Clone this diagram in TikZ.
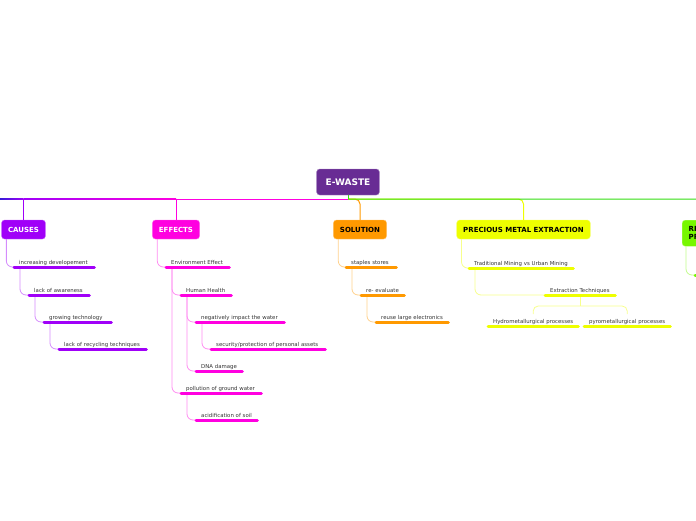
\documentclass[tikz,border=0pt]{standalone}
\usepackage{fontspec}
\setmainfont{DejaVu Sans}
\usetikzlibrary{positioning, calc}
\definecolor{hubpurple}{RGB}{104,44,148}
\definecolor{causecol}{HTML}{A000F8}
\definecolor{effectcol}{HTML}{FF00E0}
\definecolor{solcol}{HTML}{FF9900}
\definecolor{metalcol}{HTML}{EEFF00}
\definecolor{recycol}{HTML}{77F700}
\definecolor{linegreen}{HTML}{33DD11}
\definecolor{lineblue}{HTML}{2020D0}
\definecolor{subtext}{HTML}{333333}
\tikzset{
    topic/.style={fill=#1, draw=#1!60!white, line width=0.4pt, rounded corners=3pt, font=\fontsize{7}{8.5}\selectfont\bfseries, minimum height=19pt, inner xsep=6.5pt},
    sub/.style={font=\fontsize{5.4}{6.5}\selectfont, text=subtext, text width=#1pt, inner xsep=5pt, inner ysep=1pt, text height=4pt, text depth=1.5pt, anchor=south west, align=left},
    bar/.style={line width=3pt, line cap=round, draw=#1},
    main/.style={line width=1pt, draw=#1},
    link/.style={line width=0.8pt, draw=#1!45!white, rounded corners=6pt}
}
\begin{document}
\begin{tikzpicture}[x=1pt, y=-1pt]
        \useasboundingbox (0,0) rectangle (696,520);
        % central topic
        \node[topic=hubpurple, text=white, font=\fontsize{9}{11}\selectfont\bfseries, minimum height=26pt, inner xsep=9pt] (ewaste) at (348,182) {E-WASTE};
        \coordinate (hub) at (348,199);
        \coordinate (farleft) at (-5,199);

        % main topics
        \node[topic=causecol, text=white] (causes) at (23.5,229.5) {CAUSES};
        \node[topic=effectcol, text=white] (effects) at (176,229.5) {EFFECTS};
        \node[topic=solcol, text=black] (solution) at (360,229.5) {SOLUTION};
        \node[topic=metalcol, text=black] (precious) at (523.5,229.5) {PRECIOUS METAL EXTRACTION};
        \node[topic=recycol, text=black, anchor=north west, minimum height=26pt, align=left, font=\fontsize{7}{8}\selectfont\bfseries] (recycle) at (682,220) {RECYCLING\\PROCESS};

        \draw[main=solcol, rounded corners=5pt] (hub) -| (solution.north);
        \draw[main=metalcol, rounded corners=5pt] (hub) -| (precious.north);
        \draw[main=linegreen, rounded corners=5pt] (hub) -| (recycle.north);
        \draw[main=linegreen] (ewaste.south) -- (hub);
        \draw[main=effectcol] (hub) -- (effects.north |- hub) -- (effects.north);
        \shade[left color=causecol, right color=effectcol] ($(causes.north |- hub)+(0,-0.5)$) rectangle ($(effects.north |- hub)+(0,0.5)$);
        \shade[left color=lineblue, right color=causecol] ($(farleft)+(0,-0.5)$) rectangle ($(causes.north |- hub)+(0,0.5)$);
        \draw[main=causecol] (causes.north |- hub) -- (causes.north);

        % causes
        \node[sub=70] (c1) at (14,267) {increasing developement};
        \node[sub=50] (c2) at ([shift={(15,28)}]c1.south west) {lack of awareness};
        \node[sub=57] (c3) at ([shift={(15,27)}]c2.south west) {growing technology};
        \node[sub=77] (c4) at ([shift={(15,27)}]c3.south west) {lack of recycling techniques};
        \draw[link=causecol] ([xshift=5pt]causes.south west) |- (c1.south west);
        \draw[link=causecol] ([xshift=6pt]c1.south west) |- (c2.south west);
        \draw[link=causecol] ([xshift=6pt]c2.south west) |- (c3.south west);
        \draw[link=causecol] ([xshift=6pt]c3.south west) |- (c4.south west);
        \foreach \n in {c1,c2,c3,c4}
            \draw[bar=causecol] (\n.south west) -- (\n.south east);

        % effects
        \node[sub=53] (e1) at (166,267) {Environment Effect};
        \node[sub=40] (e2) at ([shift={(15,28)}]e1.south west) {Human Health};
        \node[sub=78] (e3) at ([shift={(15,27)}]e2.south west) {negatively impact the water};
        \node[sub=104] (e4) at ([shift={(15,27)}]e3.south west) {\mbox{security/protection of personal assets}};
        \node[sub=36] (e5) at ([shift={(0,49)}]e3.south west) {DNA damage};
        \node[sub=70] (e6) at ([shift={(0,98)}]e2.south west) {pollution of ground water};
        \node[sub=51] (e7) at ([shift={(15,27)}]e6.south west) {acidification of soil};
        \draw[link=effectcol] ([xshift=5pt]effects.south west) |- (e1.south west);
        \draw[link=effectcol] ([xshift=6pt]e1.south west) |- (e2.south west);
        \draw[link=effectcol] ([xshift=6pt]e1.south west) |- (e6.south west);
        \draw[link=effectcol] ([xshift=6pt]e2.south west) |- (e3.south west);
        \draw[link=effectcol] ([xshift=6pt]e2.south west) |- (e5.south west);
        \draw[link=effectcol] ([xshift=6pt]e3.south west) |- (e4.south west);
        \draw[link=effectcol] ([xshift=6pt]e6.south west) |- (e7.south west);
        \foreach \n in {e1,e2,e3,e4,e5,e6,e7}
            \draw[bar=effectcol] (\n.south west) -- (\n.south east);

        % solution
        \node[sub=40] (s1) at (346,267) {staples stores};
        \node[sub=33] (s2) at ([shift={(15,28)}]s1.south west) {re- evaluate};
        \node[sub=62] (s3) at ([shift={(15,27)}]s2.south west) {reuse large electronics};
        \draw[link=solcol] ([xshift=5pt]solution.south west) |- (s1.south west);
        \draw[link=solcol] ([xshift=6pt]s1.south west) |- (s2.south west);
        \draw[link=solcol] ([xshift=6pt]s2.south west) |- (s3.south west);
        \foreach \n in {s1,s2,s3}
            \draw[bar=solcol] (\n.south west) -- (\n.south east);

        % precious metal extraction
        \node[sub=94] (p1) at (469,268) {\mbox{Traditional Mining vs Urban Mining}};
        \node[sub=60] (p2) at (545,295) {Extraction Techniques};
        \node[sub=80] (p3) at (488,326) {\mbox{Hydrometallurgical processes}};
        \node[sub=76] (p4) at (584,326) {\mbox{pyrometallurgical processes}};
        \draw[link=metalcol] ([xshift=5pt]precious.south west) |- (p1.south west);
        \draw[link=metalcol] ([xshift=6pt]p1.south west) |- (p2.south west);
        \draw[link=metalcol] (p2.south) -- ([yshift=-11pt]p2.south);
        \draw[link=metalcol, rounded corners=5pt] ([yshift=4pt]p3.north) |- ([yshift=-11pt]p2.south) -| ([yshift=4pt]p4.north);
        \foreach \n in {p1,p2,p3,p4}
            \draw[bar=metalcol] (\n.south west) -- (\n.south east);

        % recycling
        \coordinate (rchild) at (695,275);
        \draw[link=recycol] ([xshift=4pt]recycle.south west) |- (rchild);
        \draw[bar=recycol] (rchild) -- ++(40,0);
\end{tikzpicture}
\end{document}
